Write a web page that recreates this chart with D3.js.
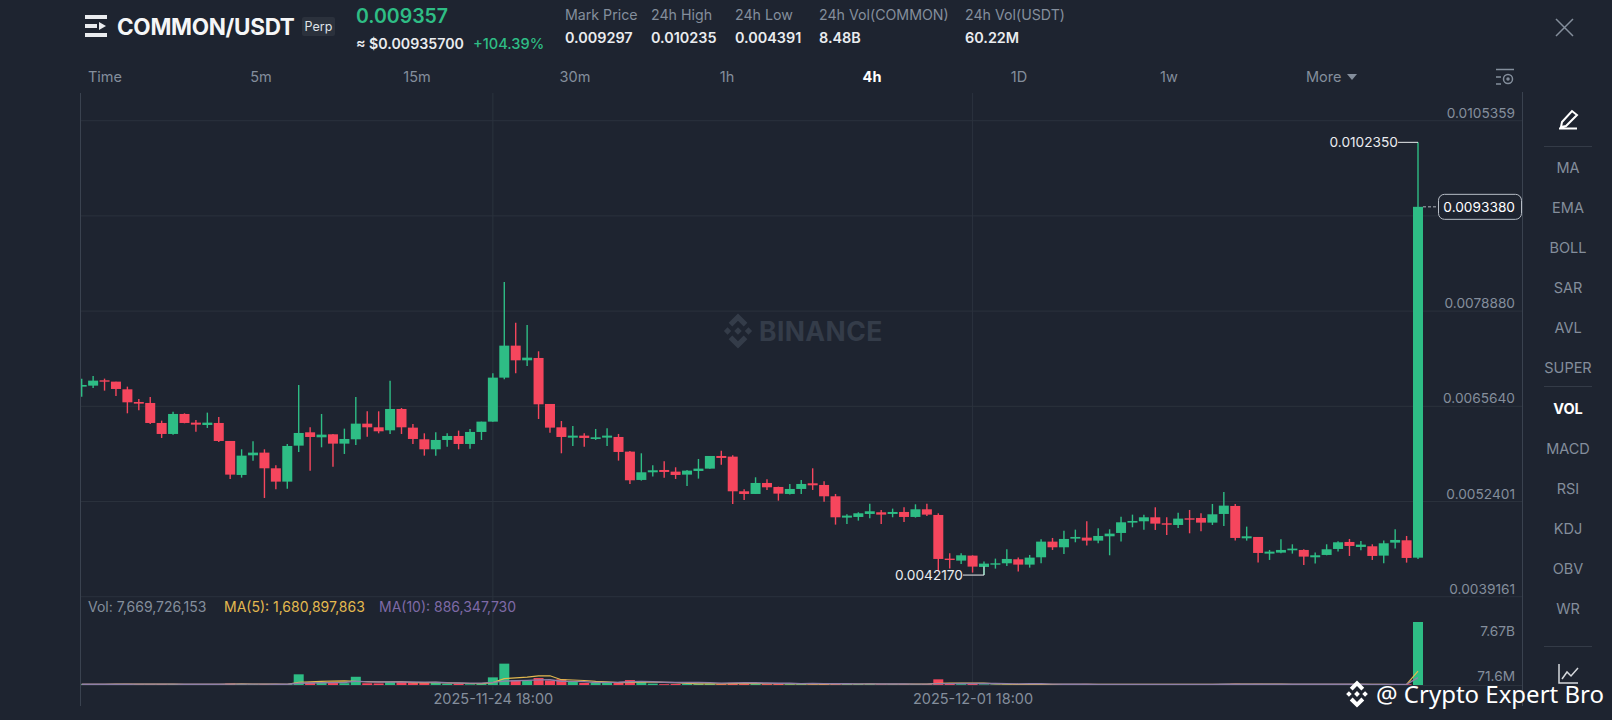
<!DOCTYPE html>
<html>
<head>
<meta charset="utf-8">
<script src="https://cdn.jsdelivr.net/npm/d3@7"></script>
<style>
  html, body { margin: 0; padding: 0; background: #1e2430; overflow: hidden; }
  svg { display: block; font-family: Inter, "Open Sans", sans-serif; }
  .domain { display: none; }
</style>
</head>
<body>
<div id="chart"></div>
<script>
// candles, 4h
const opens = [0.0068374,0.0068514,0.0069255,0.0069070,0.0068004,0.0066242,0.0066103,0.0063322,0.0061793,0.0064574,
0.0063368,0.0063044,0.0063322,0.0060819,0.0056091,0.0058826,0.0059197,0.0057018,0.0055164,0.0060170,
0.0062024,0.0061329,0.0061746,0.0060448,0.0061051,0.0063229,0.0062719,0.0062302,0.0065269,0.0062673,
0.0061051,0.0059660,0.0060958,0.0061514,0.0060402,0.0062071,0.0063508,0.0069626,0.0074076,0.0072036,
0.0072361,0.0065965,0.0062719,0.0061283,0.0061561,0.0061097,0.0061283,0.0061375,0.0059337,0.0055398,
0.0056463,0.0056786,0.0056555,0.0056138,0.0056647,0.0056972,0.0058733,0.0058640,0.0053820,0.0053449,
0.0054979,0.0054423,0.0053449,0.0054145,0.0054932,0.0054701,0.0053125,0.0050158,0.0050251,0.0050668,
0.0050900,0.0050668,0.0050946,0.0050251,0.0051317,0.0050529,0.0044457,0.0044179,0.0044874,0.0043298,
0.0043623,0.0043808,0.0044364,0.0043623,0.0044642,0.0046821,0.0046033,0.0047238,0.0047377,0.0046960,
0.0047562,0.0048026,0.0049463,0.0049648,0.0050204,0.0049370,0.0049138,0.0050065,0.0050112,0.0049463,
0.0050668,0.0051780,0.0047284,0.0047470,0.0045152,0.0045291,0.0045616,0.0045662,0.0044642,0.0044967,
0.0045801,0.0046774,0.0046079,0.0046172,0.0044874,0.0046682,0.0047006,0.0044590];
const closes = [0.0068606,0.0069209,0.0069070,0.0068050,0.0066196,0.0066011,0.0063322,0.0061793,0.0064574,0.0063322,
0.0063090,0.0063368,0.0060819,0.0056138,0.0058779,0.0059197,0.0057018,0.0055164,0.0060124,0.0061931,
0.0061375,0.0061700,0.0060448,0.0061097,0.0063229,0.0062719,0.0062163,0.0065269,0.0062719,0.0061097,
0.0059660,0.0060958,0.0061514,0.0060402,0.0062071,0.0063508,0.0069626,0.0074076,0.0072036,0.0072407,
0.0065918,0.0062673,0.0061375,0.0061561,0.0061237,0.0061329,0.0061561,0.0059289,0.0055351,0.0056463,
0.0056741,0.0056508,0.0056091,0.0056694,0.0056972,0.0058733,0.0058455,0.0053820,0.0053449,0.0054979,
0.0054376,0.0053496,0.0054145,0.0054840,0.0054654,0.0053125,0.0050205,0.0050437,0.0050761,0.0051039,
0.0050576,0.0050946,0.0050251,0.0051317,0.0050576,0.0044411,0.0044271,0.0044920,0.0043344,0.0043762,
0.0043808,0.0044411,0.0043623,0.0044596,0.0046821,0.0046033,0.0047192,0.0047470,0.0046960,0.0047609,
0.0047933,0.0049509,0.0049694,0.0050204,0.0049324,0.0049185,0.0050019,0.0049880,0.0049463,0.0050621,
0.0051827,0.0047331,0.0047562,0.0045245,0.0045430,0.0045662,0.0045847,0.0044735,0.0044920,0.0045755,
0.0046728,0.0046218,0.0046404,0.0044828,0.0046589,0.0047052,0.0044550,0.0093380];
const highs = [0.0069487,0.0069858,0.0069487,0.0069070,0.0068374,0.0066659,0.0066937,0.0063646,0.0064898,0.0064666,
0.0063739,0.0064759,0.0064156,0.0060819,0.0059660,0.0060773,0.0059660,0.0057435,0.0060402,0.0068606,
0.0062719,0.0064574,0.0061793,0.0062534,0.0066937,0.0064944,0.0064944,0.0069209,0.0065408,0.0063183,
0.0061885,0.0062024,0.0061885,0.0062256,0.0062488,0.0063508,0.0070229,0.0082929,0.0077274,0.0076950,
0.0073288,0.0065965,0.0063600,0.0062905,0.0061885,0.0062488,0.0062581,0.0061793,0.0059429,0.0059105,
0.0057435,0.0057992,0.0057157,0.0056786,0.0058316,0.0058733,0.0059475,0.0058826,0.0054098,0.0055767,
0.0055489,0.0054469,0.0054840,0.0055396,0.0057018,0.0055211,0.0053449,0.0050622,0.0050900,0.0052105,
0.0051224,0.0051410,0.0051595,0.0052012,0.0052105,0.0050761,0.0045198,0.0045198,0.0044920,0.0044040,
0.0044457,0.0045755,0.0044596,0.0044967,0.0047145,0.0047331,0.0048350,0.0048489,0.0049648,0.0048675,
0.0048536,0.0050297,0.0050575,0.0050575,0.0051595,0.0050204,0.0050853,0.0051224,0.0050760,0.0052058,
0.0053727,0.0052058,0.0048906,0.0047470,0.0045662,0.0047145,0.0046450,0.0045755,0.0045291,0.0046450,
0.0046867,0.0047192,0.0046913,0.0046450,0.0046960,0.0048536,0.0047609,0.0102350];
const lows = [0.0066984,0.0068189,0.0067818,0.0067077,0.0064666,0.0065083,0.0063183,0.0061236,0.0061700,0.0063276,
0.0062117,0.0062627,0.0060680,0.0055535,0.0055720,0.0058084,0.0052892,0.0054098,0.0054190,0.0059289,
0.0056694,0.0059938,0.0057250,0.0059011,0.0060263,0.0061422,0.0061885,0.0061793,0.0061793,0.0060402,
0.0058779,0.0058779,0.0060032,0.0059660,0.0059753,0.0060958,0.0063508,0.0069394,0.0070229,0.0071248,
0.0063878,0.0061978,0.0059105,0.0060124,0.0060032,0.0060958,0.0060124,0.0058084,0.0054841,0.0055304,
0.0055861,0.0055720,0.0055535,0.0054562,0.0055581,0.0056972,0.0057528,0.0052059,0.0052615,0.0053449,
0.0054005,0.0052522,0.0053357,0.0053449,0.0054005,0.0052383,0.0049185,0.0049278,0.0049741,0.0050066,
0.0049278,0.0050205,0.0049556,0.0050158,0.0050390,0.0042650,0.0043066,0.0043715,0.0042510,0.0042170,
0.0043066,0.0043437,0.0042649,0.0043205,0.0043808,0.0045662,0.0045106,0.0046728,0.0046265,0.0046589,
0.0044920,0.0046821,0.0048814,0.0048489,0.0048443,0.0047748,0.0048721,0.0047979,0.0048258,0.0049138,
0.0048999,0.0046960,0.0046960,0.0043901,0.0044271,0.0045198,0.0045152,0.0043576,0.0043762,0.0044920,
0.0045430,0.0044828,0.0045616,0.0044271,0.0043808,0.0045847,0.0043901,0.0044400];

// volume pane
const volumes = [90,70,110,120,130,90,80,120,110,70,70,60,120,180,90,70,90,80,130,1300,
300,350,320,220,1000,210,190,360,370,290,270,270,150,130,90,150,930,2600,570,550,
850,550,700,400,250,250,250,300,600,400,170,100,120,170,170,180,110,260,170,120,
110,150,100,110,80,130,200,150,130,110,80,80,100,120,110,690,170,100,120,70,
60,70,60,80,90,70,80,60,130,70,80,90,70,60,70,80,70,80,60,90,
130,150,70,130,60,70,60,80,70,60,60,70,60,70,60,50,90,7670];
const ma5 = [90,85,90,100,104,104,104,108,106,94,90,86,92,118,132,122,100,100,92,334,
380,436,484,498,438,420,388,396,426,284,296,312,270,222,182,172,290,780,868,960,
1100,1124,644,610,550,430,370,290,330,360,344,314,278,192,146,148,148,178,178,168,
154,162,130,120,110,114,124,124,122,126,120,104,100,100,100,216,228,238,236,228,
130,90,84,76,72,76,76,76,84,84,84,92,90,78,76,74,76,74,72,78,
90,104,104,116,102,100,76,72,70,68,66,66,66,66,66,62,68,1680];
const ma10 = [90,90,90,95,100,102,102,105,105,99,97,95,97,106,110,108,101,100,98,210,
235,268,292,309,471,375,358,358,372,360,350,340,265,242,230,232,320,466,517,565,
626,646,464,440,410,300,320,340,400,440,398,340,302,312,300,290,232,258,290,265,
235,222,208,172,174,165,160,144,141,138,130,121,120,110,105,165,173,176,179,175,
180,165,140,148,150,109,85,83,84,79,80,82,78,76,76,78,78,75,75,78,
85,90,95,100,90,90,88,90,85,88,90,85,88,82,75,78,82,886];

const timeLabels = [[36, "2025-11-24 18:00"], [78, "2025-12-01 18:00"]];
const priceTicks = [0.0105359, 0.0092120, 0.0078880, 0.0065640, 0.0052401, 0.0039161];
const hiddenTick = 0.0092120; // label sits behind the last price box
const volTicks = [7670, 71.6];

const lastPrice = 0.0093380, highest = 0.0102350, lowest = 0.0042170;
const highIdx = 117, lowIdx = 79;

const intervals = [["5m", 261], ["15m", 417], ["30m", 575], ["1h", 727], ["4h", 872], ["1D", 1019], ["1w", 1169]];
const stats = [["Mark Price", "0.009297", 565], ["24h High", "0.010235", 651], ["24h Low", "0.004391", 735],
  ["24h Vol(COMMON)", "8.48B", 819], ["24h Vol(USDT)", "60.22M", 965]];
const sideTools = [["MA", 168], ["EMA", 208], ["BOLL", 248], ["SAR", 288], ["AVL", 328], ["SUPER", 368],
  ["VOL", 409], ["MACD", 449], ["RSI", 489], ["KDJ", 529], ["OBV", 569], ["WR", 609]];

const GREEN = "#2ebd85", RED = "#f6465d", GREY = "#848e9c", GRID = "#2b323d", WHITE = "#eaecef";
const AXIS_FONT = 13.7;

var width = 1612, height = 720;
var svg = d3.select("#chart").append("svg")
  .attr("width", width).attr("height", height);

const x = d3.scaleLinear().domain([0, 117]).range([81.7, 1418]);
const y = d3.scaleLinear().domain([0.0039161, 0.0105359]).range([596.7, 120.7]);
const yVol = d3.scaleLinear().domain([0, 7670]).range([685, 622]);

const barW = 10;

svg.append("clipPath").attr("id", "plot").append("rect")
  .attr("x", 81).attr("y", 92).attr("width", 1441).attr("height", 620);

// binance mark, drawn around 0,0 with half size 16
function binanceMark(g, cx, cy, k) {
  g.append("path")
    .attr("transform", "translate(" + cx + "," + cy + ") scale(" + k + ")")
    .attr("d", "M0,-16 L8.5,-7.5 L5.2,-4.2 L0,-9.4 L-5.2,-4.2 L-8.5,-7.5 Z" +
      "M0,16 L8.5,7.5 L5.2,4.2 L0,9.4 L-5.2,4.2 L-8.5,7.5 Z" +
      "M-12.8,0 L-9.5,-3.3 L-6.2,0 L-9.5,3.3 Z M12.8,0 L9.5,-3.3 L6.2,0 L9.5,3.3 Z" +
      "M0,-3.4 L3.4,0 L0,3.4 L-3.4,0 Z");
}

// grid
svg.append("g").selectAll("line").data(priceTicks).join("line")
  .attr("x1", 81).attr("x2", 1522)
  .attr("y1", d => y(d)).attr("y2", d => y(d))
  .attr("stroke", GRID);
svg.append("g").selectAll("line").data(timeLabels).join("line")
  .attr("x1", d => x(d[0])).attr("x2", d => x(d[0]))
  .attr("y1", 93).attr("y2", 690)
  .attr("stroke", GRID);
svg.append("line").attr("x1", 80.5).attr("x2", 80.5).attr("y1", 93).attr("y2", 706).attr("stroke", "#3a424f");
svg.append("line").attr("x1", 1522.5).attr("x2", 1522.5).attr("y1", 92).attr("y2", 706).attr("stroke", "#3a424f");
svg.append("line").attr("x1", 81).attr("x2", 1522).attr("y1", 685.5).attr("y2", 685.5).attr("stroke", GRID);

// watermark
var wm = svg.append("g").attr("fill", "#343c49");
binanceMark(wm, 738, 331, 1.1);
wm.append("text").attr("x", 759).attr("y", 340.5).attr("font-size", 26.5).attr("font-weight", 700)
  .attr("letter-spacing", 0.4).text("BINANCE");

// candles
var candles = svg.append("g").attr("clip-path", "url(#plot)");
const idx = d3.range(opens.length);
const colorOf = i => closes[i] >= opens[i] ? GREEN : RED;
candles.selectAll("line.wick").data(idx).join("line")
  .attr("class", "wick")
  .attr("x1", i => x(i)).attr("x2", i => x(i))
  .attr("y1", i => y(highs[i])).attr("y2", i => y(lows[i]))
  .attr("stroke", colorOf).attr("stroke-width", 1.4);
candles.selectAll("rect.body").data(idx).join("rect")
  .attr("class", "body")
  .attr("x", i => x(i) - barW / 2).attr("width", barW)
  .attr("y", i => y(Math.max(opens[i], closes[i])))
  .attr("height", i => Math.max(1.4, Math.abs(y(opens[i]) - y(closes[i]))))
  .attr("fill", colorOf);

// volume
candles.selectAll("rect.vol").data(idx).join("rect")
  .attr("class", "vol")
  .attr("x", i => x(i) - barW / 2).attr("width", barW)
  .attr("y", i => yVol(volumes[i]))
  .attr("height", i => yVol(0) - yVol(volumes[i]))
  .attr("fill", colorOf);
const lineOf = arr => d3.line().x((d, i) => x(i)).y(d => yVol(d))(arr);
candles.append("path").attr("d", lineOf(ma5)).attr("fill", "none").attr("stroke", "#e3b94f").attr("stroke-width", 1.2);
candles.append("path").attr("d", lineOf(ma10)).attr("fill", "none").attr("stroke", "#8f7fa8").attr("stroke-width", 1.4);

// axes
var priceAxis = svg.append("g").attr("transform", "translate(1515,0)")
  .call(d3.axisLeft(y).tickValues(priceTicks).tickSize(0).tickPadding(0)
    .tickFormat(d => d === hiddenTick ? "" : d.toFixed(7)));
priceAxis.selectAll("text").attr("dy", "-0.25em").attr("font-size", AXIS_FONT).attr("fill", GREY)
  .attr("font-family", "Inter");

var volAxis = svg.append("g").attr("transform", "translate(1515,0)")
  .call(d3.axisLeft(yVol).tickValues(volTicks).tickSize(0).tickPadding(0)
    .tickFormat(d => d >= 1000 ? (d / 1000).toFixed(2) + "B" : d + "M"));
volAxis.selectAll("text").attr("font-size", AXIS_FONT).attr("fill", GREY).attr("font-family", "Inter")
  .attr("dy", d => d >= 1000 ? "1.0em" : "-0.25em");

var timeAxis = svg.append("g").attr("transform", "translate(0,698.5)")
  .call(d3.axisBottom(x).tickValues(timeLabels.map(d => d[0])).tickSize(0).tickPadding(0)
    .tickFormat(d => timeLabels.find(t => t[0] === d)[1]));
timeAxis.selectAll("text").attr("y", 0).attr("dy", "0.35em").attr("font-size", 14.5).attr("fill", GREY)
  .attr("font-family", "Inter");

// high / low / last markers
svg.append("path").attr("fill", "none").attr("stroke", WHITE)
  .attr("d", "M" + x(highIdx) + "," + y(highest) + "H" + (x(highIdx) - 20));
svg.append("text").attr("x", x(highIdx) - 20).attr("y", y(highest)).attr("dy", "0.35em")
  .attr("text-anchor", "end").attr("font-size", AXIS_FONT).attr("fill", WHITE).text(highest.toFixed(7));
svg.append("path").attr("fill", "none").attr("stroke", WHITE)
  .attr("d", "M" + x(lowIdx) + "," + y(lows[lowIdx] + 0.00012) + "V" + y(lowest) + "H" + (x(lowIdx) - 21));
svg.append("text").attr("x", x(lowIdx) - 21).attr("y", y(lowest)).attr("dy", "0.35em")
  .attr("text-anchor", "end").attr("font-size", AXIS_FONT).attr("fill", WHITE).text(lowest.toFixed(7));

svg.append("line").attr("x1", x(117) + 5).attr("x2", 1438)
  .attr("y1", y(lastPrice)).attr("y2", y(lastPrice))
  .attr("stroke", "#aeb4bc").attr("stroke-dasharray", "3,2");
svg.append("rect").attr("x", 1438.5).attr("y", y(lastPrice) - 12.5).attr("width", 83).attr("height", 25)
  .attr("rx", 6).attr("fill", "#1e2430").attr("stroke", "#b7bdc6");
svg.append("text").attr("x", 1515).attr("y", y(lastPrice)).attr("dy", "0.35em")
  .attr("text-anchor", "end").attr("font-size", AXIS_FONT).attr("fill", "#ffffff").text(lastPrice.toFixed(7));

// volume legend
var lg = svg.append("text").attr("y", 607).attr("dy", "0.35em").attr("font-size", 14);
lg.append("tspan").attr("x", 88).attr("fill", GREY).text("Vol: 7,669,726,153");
lg.append("tspan").attr("x", 224).attr("fill", "#e3b94f").text("MA(5): 1,680,897,863");
lg.append("tspan").attr("x", 379).attr("fill", "#7e6aa6").text("MA(10): 886,347,730");

// header
var menu = svg.append("g").attr("fill", WHITE);
menu.append("rect").attr("x", 85).attr("y", 15).attr("width", 22).attr("height", 4);
menu.append("rect").attr("x", 85).attr("y", 33).attr("width", 22).attr("height", 4);
menu.append("rect").attr("x", 85).attr("y", 24).attr("width", 12).attr("height", 4);
menu.append("path").attr("d", "M99,22 L106,26 L99,30 Z");

svg.append("text").attr("x", 117).attr("y", 27).attr("dy", "0.35em").attr("font-size", 22.5)
  .attr("font-weight", 700).attr("letter-spacing", -0.3).attr("fill", "#f5f6f7").text("COMMON/USDT");
svg.append("rect").attr("x", 302).attr("y", 17).attr("width", 33).attr("height", 19).attr("rx", 2).attr("fill", "#2b313c");
svg.append("text").attr("x", 318.5).attr("y", 26.5).attr("dy", "0.35em").attr("text-anchor", "middle")
  .attr("font-size", 12.5).attr("fill", "#dfe2e6").text("Perp");
svg.append("text").attr("x", 356).attr("y", 16).attr("dy", "0.35em").attr("font-size", 19.5)
  .attr("font-weight", 600).attr("fill", GREEN).text("0.009357");
svg.append("text").attr("x", 356).attr("y", 44).attr("dy", "0.35em").attr("font-size", 14.2)
  .attr("font-weight", 600).attr("fill", WHITE).text("≈ $0.00935700");
svg.append("text").attr("x", 473).attr("y", 44).attr("dy", "0.35em").attr("font-size", 14.6)
  .attr("font-weight", 500).attr("fill", GREEN).text("+104.39%");

var st = svg.append("g").selectAll("g").data(stats).join("g");
st.append("text").attr("x", d => d[2]).attr("y", 15).attr("dy", "0.35em").attr("font-size", 14.2)
  .attr("fill", GREY).text(d => d[0]);
st.append("text").attr("x", d => d[2]).attr("y", 38).attr("dy", "0.35em").attr("font-size", 14.4)
  .attr("font-weight", 600).attr("fill", WHITE).text(d => d[1]);

svg.append("path").attr("d", "M1556,19 L1573,36 M1573,19 L1556,36").attr("stroke", GREY).attr("stroke-width", 1.5);

// interval row
svg.append("text").attr("x", 88).attr("y", 77).attr("dy", "0.35em").attr("font-size", 14.5).attr("fill", GREY).text("Time");
svg.append("g").selectAll("text").data(intervals).join("text")
  .attr("x", d => d[1]).attr("y", 77).attr("dy", "0.35em").attr("text-anchor", "middle").attr("font-size", 14.5)
  .attr("font-weight", d => d[0] === "4h" ? 700 : 400)
  .attr("fill", d => d[0] === "4h" ? "#ffffff" : GREY)
  .text(d => d[0]);
svg.append("text").attr("x", 1306).attr("y", 77).attr("dy", "0.35em").attr("font-size", 14.5).attr("fill", GREY).text("More");
svg.append("path").attr("d", "M1347,74 H1357 L1352,80 Z").attr("fill", GREY);
var cog = svg.append("g").attr("stroke", GREY).attr("fill", "none").attr("stroke-width", 1.5);
cog.append("path").attr("d", "M1496,69.5 H1514 M1496,77 H1501 M1496,84 H1501");
cog.append("circle").attr("cx", 1508).attr("cy", 79).attr("r", 4.5);
cog.append("circle").attr("cx", 1508).attr("cy", 79).attr("r", 1).attr("fill", GREY);

// right toolbar
svg.append("g").selectAll("text").data(sideTools).join("text")
  .attr("x", 1568).attr("y", d => d[1]).attr("dy", "0.35em").attr("text-anchor", "middle").attr("font-size", 14.5)
  .attr("font-weight", d => d[0] === "VOL" ? 700 : 400)
  .attr("fill", d => d[0] === "VOL" ? "#ffffff" : GREY)
  .text(d => d[0]);
svg.append("g").selectAll("line").data([146.5, 386.5, 646.5]).join("line")
  .attr("x1", 1544).attr("x2", 1592).attr("y1", d => d).attr("y2", d => d).attr("stroke", "#343b47");
svg.append("path").attr("fill", "none").attr("stroke", "#ffffff").attr("stroke-width", 2)
  .attr("d", "M1562,122 L1572,111 L1577,115 L1566,126 L1561,127 Z M1559,128.5 H1577");
var ic = svg.append("g").attr("fill", "none").attr("stroke", "#d5d8dc").attr("stroke-width", 1.5);
ic.append("path").attr("d", "M1559,664 V683 H1578");
ic.append("path").attr("d", "M1562,679 L1567,672 L1571,676 L1578,668");

// account watermark over the chart
var acc = svg.append("g").attr("fill", "#ffffff");
binanceMark(acc, 1357, 694, 0.85);
acc.append("text").attr("x", 1376).attr("y", 695).attr("dy", "0.35em").attr("font-size", 24)
  .attr("font-family", "Noto Sans").text("@ Crypto Expert Bro");
</script>
</body>
</html>
